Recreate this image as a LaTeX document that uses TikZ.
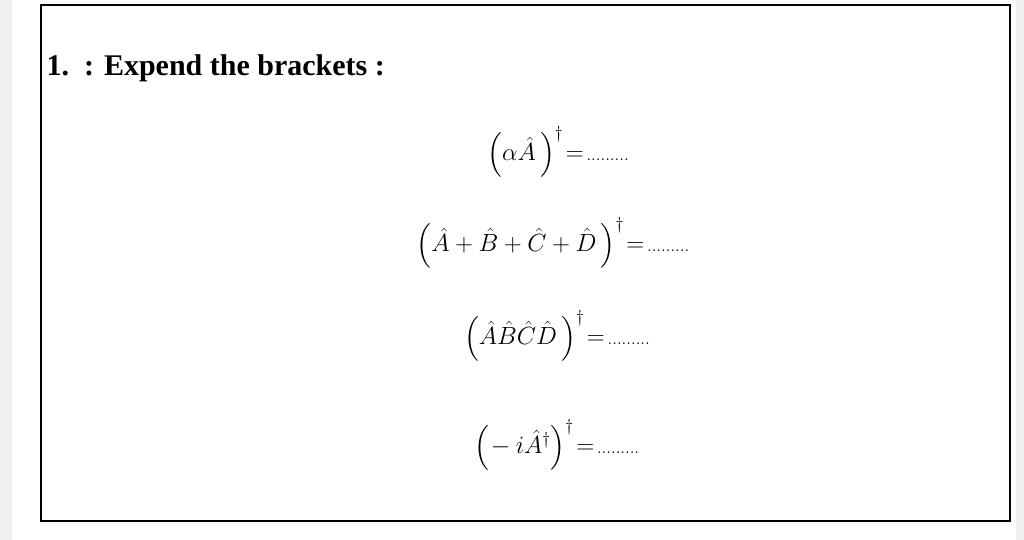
\documentclass[tikz,border=0pt]{standalone}
\usepackage{amsmath}
\usepackage{fontspec}
\setmainfont{Liberation Serif}
\tikzset{eq/.style={anchor=center,font=\fontsize{27}{32}\selectfont}}
\begin{document}
\begin{tikzpicture}[x=1pt,y=-1pt]
\fill[gray!12] (0,0) rectangle (1024,540);
\fill[white] (12,0) rectangle (1016,540);
\draw[line width=1.2pt] (41,5) rectangle (1010,521);
\node[anchor=west,font=\fontsize{30}{34}\selectfont\bfseries] (t) at (43,68) {1.\ \ : Expend the brackets :};
\node[eq] (e1) at (558,152) {$\Big(\alpha\hat{A}\,\Big)^{\dagger}\!=\!{\scriptstyle\ldots\ldots\ldots}$};
\node[eq] (e2) at (553,243) {$\Big(\hat{A}+\hat{B}+\hat{C}+\hat{D}\,\Big)^{\dagger}\!=\!{\scriptstyle\ldots\ldots\ldots}$};
\node[eq] (e3) at (557,336) {$\Big(\hat{A}\hat{B}\hat{C}\hat{D}\,\Big)^{\dagger}\!=\!{\scriptstyle\ldots\ldots\ldots}$};
\node[eq] (e4) at (557,445) {$\Big(\!-i\hat{A}^{\dagger}\Big)^{\dagger}\!=\!{\scriptstyle\ldots\ldots\ldots}$};
\end{tikzpicture}
\end{document}
